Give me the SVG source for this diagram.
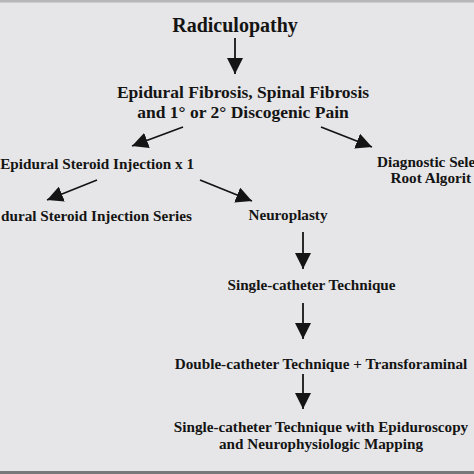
<svg xmlns="http://www.w3.org/2000/svg" width="474" height="474" viewBox="0 0 474 474">
<style>
text{font-family:"Liberation Serif","Times New Roman",serif;font-weight:bold;fill:#141414;}
.t1{font-size:20px;}
.t2{font-size:17.5px;}
.t3{font-size:15.2px;}
.c{text-anchor:middle;}
.e{text-anchor:end;}
.conn line{stroke:#141414;stroke-width:1.8;marker-end:url(#ah);}
</style>
<defs>
<marker id="ah" markerUnits="userSpaceOnUse" markerWidth="17" markerHeight="16" refX="16" refY="8" orient="auto" viewBox="0 0 17 16">
<path d="M0,0 L16,8 L0,16 z" fill="#141414"/>
</marker>
</defs>
<rect x="0" y="0" width="474" height="474" fill="#e6e6e8"/>
<rect x="0" y="0" width="474" height="2.5" fill="#b6b6b8"/>
<rect x="0" y="471" width="474" height="3" fill="#78787a"/>

<g id="n-radiculopathy"><text class="t1 c" x="235" y="32">Radiculopathy</text></g>
<g id="n-fibrosis">
<text class="t2 c" x="243" y="98">Epidural Fibrosis, Spinal Fibrosis</text>
<text class="t2 c" x="243" y="118">and 1° or 2° Discogenic Pain</text>
</g>
<g id="n-esi1"><text class="t3 e" x="194" y="169">Epidural Steroid Injection x 1</text></g>
<g id="n-diag">
<text class="t3" x="377" y="167">Diagnostic Sele</text>
<text class="t3" x="390.5" y="183">Root Algorit</text>
</g>
<g id="n-esiseries"><text class="t3" x="1" y="221">dural Steroid Injection Series</text></g>
<g id="n-neuroplasty"><text class="t3 c" x="288" y="220">Neuroplasty</text></g>
<g id="n-single"><text class="t3 c" x="311.5" y="290">Single-catheter Technique</text></g>
<g id="n-double"><text class="t3 c" x="321" y="369">Double-catheter Technique + Transforaminal</text></g>
<g id="n-epiduroscopy">
<text class="t3 c" x="321" y="432">Single-catheter Technique with Epiduroscopy</text>
<text class="t3 c" x="321" y="449">and Neurophysiologic Mapping</text>
</g>

<g id="connectors" class="conn">
<line x1="235" y1="38" x2="235" y2="74"/>
<line x1="183" y1="127" x2="132" y2="146"/>
<line x1="321" y1="127" x2="372" y2="147"/>
<line x1="97" y1="180" x2="47" y2="200"/>
<line x1="200" y1="180" x2="252" y2="201"/>
<line x1="303" y1="232" x2="303" y2="269"/>
<line x1="303" y1="303" x2="303" y2="339"/>
<line x1="303" y1="374" x2="303" y2="409"/>
</g>
</svg>
